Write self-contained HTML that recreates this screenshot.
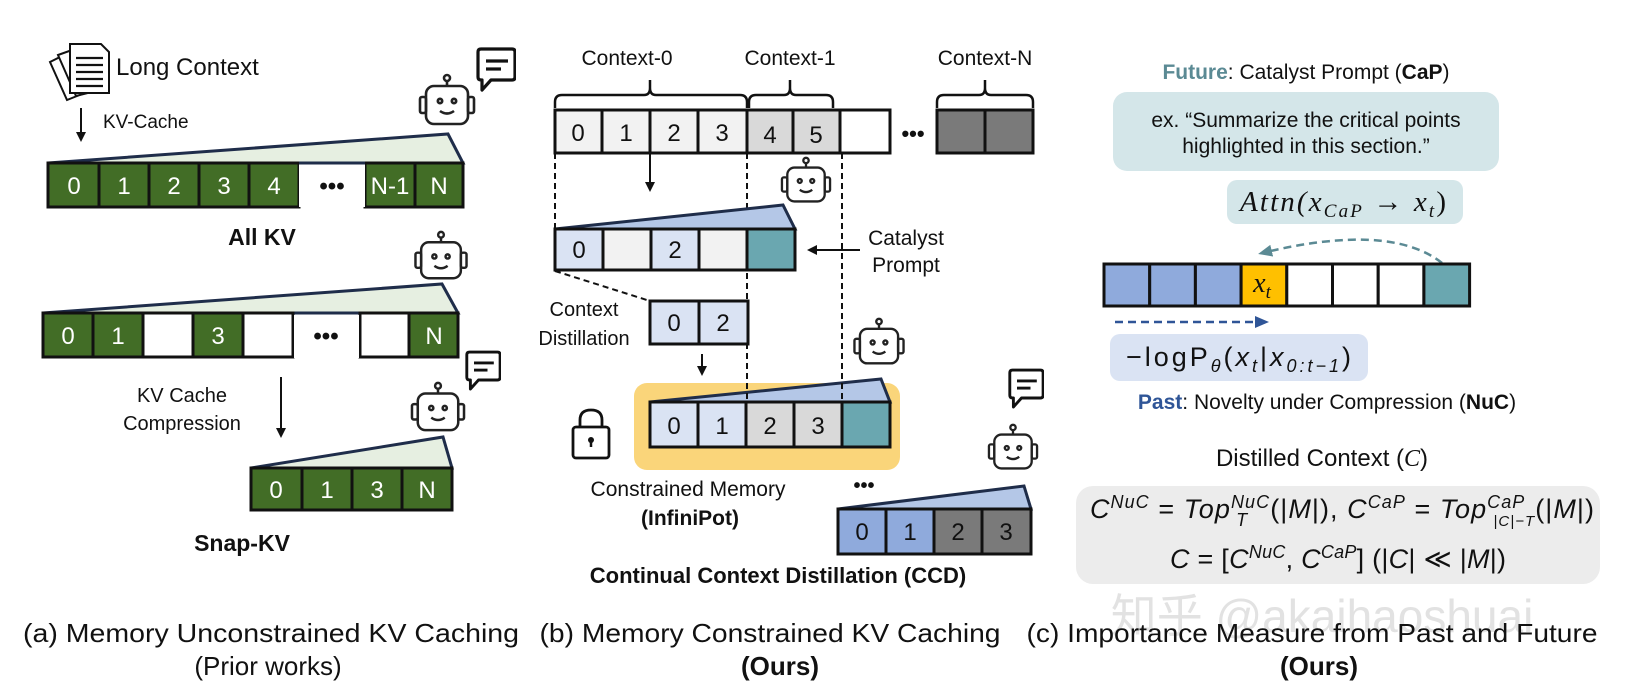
<!DOCTYPE html>
<html><head><meta charset="utf-8"><style>
html,body{margin:0;padding:0;background:#fff;}
svg{display:block;}
text{font-family:"Liberation Sans",Arial,sans-serif;}
.s{font-family:"Liberation Serif","DejaVu Serif",serif;font-style:italic;}
</style></head><body>
<svg width="1626" height="690" viewBox="0 0 1626 690" xmlns="http://www.w3.org/2000/svg">
<defs>
<symbol id="robot" viewBox="0 0 60 55">
<g fill="none" stroke="#222" stroke-width="2.6">
<line x1="30" y1="7" x2="30" y2="13"/><circle cx="30" cy="5" r="3"/>
<rect x="9" y="13" width="42" height="38" rx="8" fill="#fff"/>
<rect x="3" y="24" width="6" height="16" rx="2"/><rect x="51" y="24" width="6" height="16" rx="2"/>
<circle cx="23" cy="28" r="2.2"/><circle cx="37" cy="28" r="2.2"/>
<path d="M23 38 Q30 43 37 38"/>
</g></symbol>
<symbol id="chat" viewBox="0 0 40 48">
<g fill="none" stroke="#111" stroke-width="3.2" stroke-linejoin="round">
<path d="M5 3 H36 Q39 3 39 6 V31 Q39 34 36 34 H15 L6 44 V34 H5 Q2 34 2 31 V6 Q2 3 5 3 Z" fill="#fff"/>
<line x1="10" y1="15" x2="32" y2="15"/><line x1="10" y1="23" x2="25" y2="23"/>
</g></symbol>
<marker id="ah" markerWidth="10" markerHeight="10" refX="8" refY="5" orient="auto" markerUnits="userSpaceOnUse"><path d="M0 0 L10 5 L0 10 Z" fill="#111"/></marker>
<marker id="ahb" markerWidth="14" markerHeight="12" refX="10" refY="6" orient="auto" markerUnits="userSpaceOnUse"><path d="M0 0 L14 6 L0 12 Z" fill="#2f5597"/></marker>
<marker id="aht" markerWidth="14" markerHeight="12" refX="10" refY="6" orient="auto" markerUnits="userSpaceOnUse"><path d="M0 0 L14 6 L0 12 Z" fill="#5b8a94"/></marker>
</defs>

<!-- ============ Panel (a) ============ -->
<g fill="#fff" stroke="#111" stroke-width="2">
<path d="M50 62 L64 55 L82 94 L67 100 Z"/>
<path d="M58 55 L72 50 L92 92 L76 96 Z"/>
<path d="M70 44 H101 L109 52 V93 H70 Z"/>
</g>
<g stroke="#111" stroke-width="2.2"><line x1="76" y1="58" x2="103" y2="58"/><line x1="76" y1="65" x2="103" y2="65"/><line x1="76" y1="72" x2="103" y2="72"/><line x1="76" y1="79" x2="103" y2="79"/><line x1="76" y1="86" x2="103" y2="86"/></g>
<text x="116" y="75" font-size="24" fill="#111">Long Context</text>
<line x1="81" y1="108" x2="81" y2="140" stroke="#111" stroke-width="2" marker-end="url(#ah)"/>
<text x="103" y="128" font-size="19" fill="#111">KV-Cache</text>
<use href="#robot" x="416" y="73" width="62" height="55"/>
<use href="#chat" x="476" y="46" width="40" height="48"/>

<path d="M48 163 L448 134 L463 163 Z" fill="#e6efe1" stroke="#1f2d4a" stroke-width="3"/>
<g stroke="#111" stroke-width="3" fill="#426d26">
<rect x="48" y="163" width="51" height="44"/><rect x="99" y="163" width="50" height="44"/><rect x="149" y="163" width="50" height="44"/><rect x="199" y="163" width="50" height="44"/><rect x="249" y="163" width="50" height="44"/>
<rect x="365" y="163" width="50" height="44"/><rect x="415" y="163" width="48" height="44"/>
</g>
<rect x="299" y="163" width="66" height="44" fill="#fff"/>
<line x1="299" y1="163" x2="365" y2="163" stroke="#1f2d4a" stroke-width="3"/>
<g font-size="24" fill="#fff" text-anchor="middle">
<text x="74" y="194">0</text><text x="124" y="194">1</text><text x="174" y="194">2</text><text x="224" y="194">3</text><text x="274" y="194">4</text><text x="390" y="194">N-1</text><text x="439" y="194">N</text>
</g>
<text x="332" y="194" font-size="24" fill="#111" text-anchor="middle" font-weight="bold">•••</text>
<text x="262" y="245" font-size="23" font-weight="bold" text-anchor="middle" fill="#111">All KV</text>

<use href="#robot" x="411" y="230" width="60" height="52"/>
<path d="M43 313 L442 284 L458 313 Z" fill="#e6efe1" stroke="#1f2d4a" stroke-width="3"/>
<g stroke="#111" stroke-width="3">
<rect x="43" y="313" width="50" height="44" fill="#426d26"/><rect x="93" y="313" width="50" height="44" fill="#426d26"/><rect x="143" y="313" width="50" height="44" fill="#fff"/><rect x="193" y="313" width="50" height="44" fill="#426d26"/><rect x="243" y="313" width="50" height="44" fill="#fff"/>
<rect x="360" y="313" width="49" height="44" fill="#fff"/><rect x="409" y="313" width="49" height="44" fill="#426d26"/>
</g>
<rect x="294" y="315" width="65" height="43" fill="#fff"/>
<g font-size="24" fill="#fff" text-anchor="middle"><text x="68" y="344">0</text><text x="118" y="344">1</text><text x="218" y="344">3</text><text x="434" y="344">N</text></g>
<text x="326" y="344" font-size="24" fill="#111" text-anchor="middle" font-weight="bold">•••</text>

<text x="182" y="402" font-size="20" text-anchor="middle" fill="#111">KV Cache</text>
<text x="182" y="430" font-size="20" text-anchor="middle" fill="#111">Compression</text>
<line x1="281" y1="377" x2="281" y2="436" stroke="#111" stroke-width="2" marker-end="url(#ah)"/>
<use href="#robot" x="408" y="381" width="60" height="53"/>
<use href="#chat" x="465" y="349" width="36" height="44"/>
<path d="M251 468 L443 437 L452 468 Z" fill="#e6efe1" stroke="#1f2d4a" stroke-width="3"/>
<g stroke="#111" stroke-width="3" fill="#426d26"><rect x="251" y="468" width="51" height="42"/><rect x="302" y="468" width="50" height="42"/><rect x="352" y="468" width="50" height="42"/><rect x="402" y="468" width="50" height="42"/></g>
<g font-size="24" fill="#fff" text-anchor="middle"><text x="276" y="498">0</text><text x="327" y="498">1</text><text x="377" y="498">3</text><text x="427" y="498">N</text></g>
<text x="242" y="551" font-size="23" font-weight="bold" text-anchor="middle" fill="#111">Snap-KV</text>

<!-- ============ Panel (b) ============ -->
<g font-size="21" fill="#111" text-anchor="middle"><text x="627" y="65">Context-0</text><text x="790" y="65">Context-1</text><text x="985" y="65">Context-N</text></g>
<g fill="none" stroke="#111" stroke-width="2.5">
<path d="M555 108 V102 Q555 95 562 95 H644 Q650 95 650 88 V80 M650 88 Q650 95 656 95 H740 Q747 95 747 102 V108"/>
<path d="M749 108 V102 Q749 95 756 95 H784 Q790 95 790 88 V80 M790 88 Q790 95 796 95 H826 Q833 95 833 102 V108"/>
<path d="M937 108 V102 Q937 95 944 95 H979 Q985 95 985 88 V80 M985 88 Q985 95 991 95 H1026 Q1033 95 1033 102 V108"/>
</g>
<g stroke="#111" stroke-width="3">
<rect x="555" y="110" width="47" height="43" fill="#f2f2f2"/><rect x="602" y="110" width="48" height="43" fill="#f2f2f2"/><rect x="650" y="110" width="48" height="43" fill="#f2f2f2"/><rect x="698" y="110" width="49" height="43" fill="#f2f2f2"/>
<rect x="747" y="110" width="46" height="43" fill="#d9d9d9"/><rect x="793" y="110" width="47" height="43" fill="#d9d9d9"/><rect x="840" y="110" width="50" height="43" fill="#fff"/>
<rect x="937" y="110" width="48" height="43" fill="#7a7a7a"/><rect x="985" y="110" width="48" height="43" fill="#7a7a7a"/>
</g>
<g font-size="24" fill="#111" text-anchor="middle"><text x="578" y="141">0</text><text x="626" y="141">1</text><text x="674" y="141">2</text><text x="722" y="141">3</text><text x="770" y="143">4</text><text x="816" y="143">5</text></g>
<text x="913" y="141" font-size="22" fill="#111" text-anchor="middle" font-weight="bold">•••</text>

<g stroke="#111" stroke-width="2" stroke-dasharray="6,4" fill="none">
<line x1="555" y1="153" x2="555" y2="229"/>
<line x1="747" y1="153" x2="747" y2="402"/>
<line x1="842" y1="153" x2="842" y2="402"/>
<line x1="555" y1="271" x2="650" y2="301"/>
</g>
<line x1="650" y1="153" x2="650" y2="190" stroke="#111" stroke-width="2" marker-end="url(#ah)"/>
<use href="#robot" x="778" y="156" width="56" height="49"/>

<path d="M555 229 L783 205 L795 229 Z" fill="#b4c7e7" stroke="#1f2d4a" stroke-width="3"/>
<g stroke="#111" stroke-width="3">
<rect x="555" y="229" width="48" height="41" fill="#dae3f3"/><rect x="603" y="229" width="48" height="41" fill="#f2f2f2"/><rect x="651" y="229" width="48" height="41" fill="#dae3f3"/><rect x="699" y="229" width="48" height="41" fill="#f2f2f2"/><rect x="747" y="229" width="48" height="41" fill="#6aa7b0"/>
</g>
<g font-size="24" fill="#111" text-anchor="middle"><text x="579" y="258">0</text><text x="675" y="258">2</text></g>
<line x1="860" y1="250" x2="809" y2="250" stroke="#111" stroke-width="2" marker-end="url(#ah)"/>
<text x="906" y="245" font-size="21" text-anchor="middle" fill="#111">Catalyst</text>
<text x="906" y="272" font-size="21" text-anchor="middle" fill="#111">Prompt</text>

<g stroke="#111" stroke-width="3" fill="#dae3f3"><rect x="650" y="301" width="49" height="43"/><rect x="699" y="301" width="49" height="43"/></g>
<g font-size="24" fill="#111" text-anchor="middle"><text x="674" y="331">0</text><text x="723" y="331">2</text></g>
<text x="584" y="316" font-size="20" text-anchor="middle" fill="#111">Context</text>
<text x="584" y="345" font-size="20" text-anchor="middle" fill="#111">Distillation</text>
<line x1="702" y1="354" x2="702" y2="374" stroke="#111" stroke-width="2" marker-end="url(#ah)"/>

<rect x="634" y="383" width="266" height="87" rx="13" fill="#fad57a"/>
<path d="M650 402 L881 379 L890 402 Z" fill="#b4c7e7" stroke="#1f2d4a" stroke-width="3"/>
<g stroke="#111" stroke-width="3">
<rect x="650" y="402" width="48" height="45" fill="#dae3f3"/><rect x="698" y="402" width="48" height="45" fill="#dae3f3"/><rect x="746" y="402" width="48" height="45" fill="#d9d9d9"/><rect x="794" y="402" width="48" height="45" fill="#d9d9d9"/><rect x="842" y="402" width="48" height="45" fill="#6aa7b0"/>
</g>
<g stroke="#111" stroke-width="2" stroke-dasharray="6,4"><line x1="747" y1="383" x2="747" y2="402"/><line x1="842" y1="383" x2="842" y2="402"/></g>
<g font-size="24" fill="#111" text-anchor="middle"><text x="674" y="434">0</text><text x="722" y="434">1</text><text x="770" y="434">2</text><text x="818" y="434">3</text></g>
<g fill="none" stroke="#111" stroke-width="2.8"><path d="M580 427 V420 Q580 410 591 410 Q602 410 602 420 V427"/><rect x="573" y="427" width="36" height="31" rx="3"/></g>
<circle cx="591" cy="440" r="3" fill="#111"/><line x1="591" y1="441" x2="591" y2="447" stroke="#111" stroke-width="2.5"/>
<text x="688" y="496" font-size="21" text-anchor="middle" fill="#111">Constrained Memory</text>
<text x="690" y="525" font-size="21" font-weight="bold" text-anchor="middle" fill="#111">(InfiniPot)</text>
<text x="864" y="492" font-size="20" text-anchor="middle" font-weight="bold" fill="#111">•••</text>
<use href="#robot" x="851" y="317" width="56" height="50"/>
<use href="#robot" x="985" y="423" width="56" height="49"/>
<use href="#chat" x="1008" y="367" width="36" height="44"/>
<path d="M838 509 L1024 486 L1031 509 Z" fill="#b4c7e7" stroke="#1f2d4a" stroke-width="3"/>
<g stroke="#111" stroke-width="3">
<rect x="838" y="509" width="48" height="45" fill="#8faadc"/><rect x="886" y="509" width="48" height="45" fill="#8faadc"/><rect x="934" y="509" width="48" height="45" fill="#7a7a7a"/><rect x="982" y="509" width="49" height="45" fill="#7a7a7a"/>
</g>
<g font-size="24" fill="#111" text-anchor="middle"><text x="862" y="540">0</text><text x="910" y="540">1</text><text x="958" y="540">2</text><text x="1006" y="540">3</text></g>
<text x="778" y="583" font-size="22" font-weight="bold" text-anchor="middle" fill="#111">Continual Context Distillation (CCD)</text>

<!-- ============ Panel (c) ============ -->
<text x="1306" y="79" font-size="21" text-anchor="middle" fill="#111"><tspan font-weight="bold" fill="#5b8a94">Future</tspan>: Catalyst Prompt (<tspan font-weight="bold">CaP</tspan>)</text>
<rect x="1113" y="92" width="386" height="79" rx="14" fill="#d4e6e9"/>
<text x="1306" y="127" font-size="21" text-anchor="middle" fill="#111">ex. “Summarize the critical points</text>
<text x="1306" y="153" font-size="21" text-anchor="middle" fill="#111">highlighted in this section.”</text>
<rect x="1227" y="180" width="236" height="44" rx="10" fill="#d4e6e9"/>
<text x="1240" y="211" font-size="29" fill="#111" class="s" textLength="206" lengthAdjust="spacing">Attn(x<tspan font-size="19" dy="6">CaP</tspan><tspan dy="-6" font-style="normal"> → </tspan>x<tspan font-size="19" dy="6">t</tspan><tspan dy="-6" font-style="normal">)</tspan></text>
<path d="M1442 263 Q1390 222 1262 253" fill="none" stroke="#5b8a94" stroke-width="2.5" stroke-dasharray="8,5" marker-end="url(#aht)"/>
<g stroke="#111" stroke-width="3">
<rect x="1104" y="264" width="45.7" height="42" fill="#8faadc"/><rect x="1149.7" y="264" width="45.7" height="42" fill="#8faadc"/><rect x="1195.4" y="264" width="45.7" height="42" fill="#8faadc"/><rect x="1241.1" y="264" width="45.7" height="42" fill="#ffc000"/>
<rect x="1286.8" y="264" width="45.7" height="42" fill="#fff"/><rect x="1332.5" y="264" width="45.7" height="42" fill="#fff"/><rect x="1378.2" y="264" width="45.7" height="42" fill="#fff"/><rect x="1423.9" y="264" width="45.7" height="42" fill="#6aa7b0"/>
</g>
<text x="1262" y="292" font-size="28" text-anchor="middle" fill="#111" class="s">x<tspan font-size="19" dy="6">t</tspan></text>
<line x1="1115" y1="322" x2="1265" y2="322" stroke="#2f5597" stroke-width="2.5" stroke-dasharray="8,5" marker-end="url(#ahb)"/>
<rect x="1110" y="334" width="258" height="47" rx="10" fill="#dae3f3"/>
<text x="1126" y="366" font-size="27" fill="#111" font-family="Liberation Serif,serif" textLength="225" lengthAdjust="spacing">−logP<tspan font-style="italic" font-size="18" dy="6">θ</tspan><tspan dy="-6">(</tspan><tspan font-style="italic">x</tspan><tspan font-style="italic" font-size="18" dy="6">t</tspan><tspan dy="-6">|</tspan><tspan font-style="italic">x</tspan><tspan font-style="italic" font-size="18" dy="6">0:t−1</tspan><tspan dy="-6">)</tspan></text>
<text x="1327" y="409" font-size="21" text-anchor="middle" fill="#111"><tspan font-weight="bold" fill="#2f5597">Past</tspan>: Novelty under Compression (<tspan font-weight="bold">NuC</tspan>)</text>
<text x="1322" y="466" font-size="24" text-anchor="middle" fill="#111">Distilled Context (<tspan font-family="Liberation Serif,serif" font-style="italic">C</tspan>)</text>
<rect x="1076" y="486" width="524" height="98" rx="17" fill="#ececec"/>
<text x="1090" y="518" font-size="27" fill="#111" font-family="Liberation Serif,serif" font-style="italic" textLength="504" lengthAdjust="spacing">C<tspan font-size="18" dy="-10">NuC</tspan><tspan dy="10" font-style="normal"> = </tspan>Top<tspan font-size="18" dy="-10">NuC</tspan><tspan font-size="18" dx="-34" dy="18">T</tspan><tspan dx="22" dy="-8" font-style="normal">(|</tspan>M<tspan font-style="normal">|), </tspan>C<tspan font-size="18" dy="-10">CaP</tspan><tspan dy="10" font-style="normal"> = </tspan>Top<tspan font-size="18" dy="-10">CaP</tspan><tspan font-size="15" dx="-32" dy="18">|C|−T</tspan><tspan dy="-8" font-style="normal">(|</tspan>M<tspan font-style="normal">|)</tspan></text>
<text x="1170" y="568" font-size="27" fill="#111" font-family="Liberation Serif,serif" font-style="italic" textLength="336" lengthAdjust="spacing">C<tspan font-style="normal"> = [</tspan>C<tspan font-size="18" dy="-10">NuC</tspan><tspan dy="10" font-style="normal">, </tspan>C<tspan font-size="18" dy="-10">CaP</tspan><tspan dy="10" font-style="normal">] (|</tspan>C<tspan font-style="normal">| ≪ |</tspan>M<tspan font-style="normal">|)</tspan></text>

<!-- watermark -->
<text x="1322" y="632" font-size="46" text-anchor="middle" fill="#cfcfcf" opacity="0.6" font-family="Liberation Sans,'Noto Sans CJK SC',sans-serif">知乎 @akaihaoshuai</text>

<!-- captions -->
<g font-size="26" fill="#111" text-anchor="middle">
<text x="271" y="642" textLength="496" lengthAdjust="spacingAndGlyphs">(a)  Memory Unconstrained KV Caching</text>
<text x="268" y="675">(Prior works)</text>
<text x="770" y="642" textLength="461" lengthAdjust="spacingAndGlyphs">(b) Memory Constrained KV Caching</text>
<text x="780" y="675" font-weight="bold">(Ours)</text>
<text x="1312" y="642" textLength="571" lengthAdjust="spacingAndGlyphs">(c) Importance Measure from Past and Future</text>
<text x="1319" y="675" font-weight="bold">(Ours)</text>
</g>
</svg>
</body></html>
